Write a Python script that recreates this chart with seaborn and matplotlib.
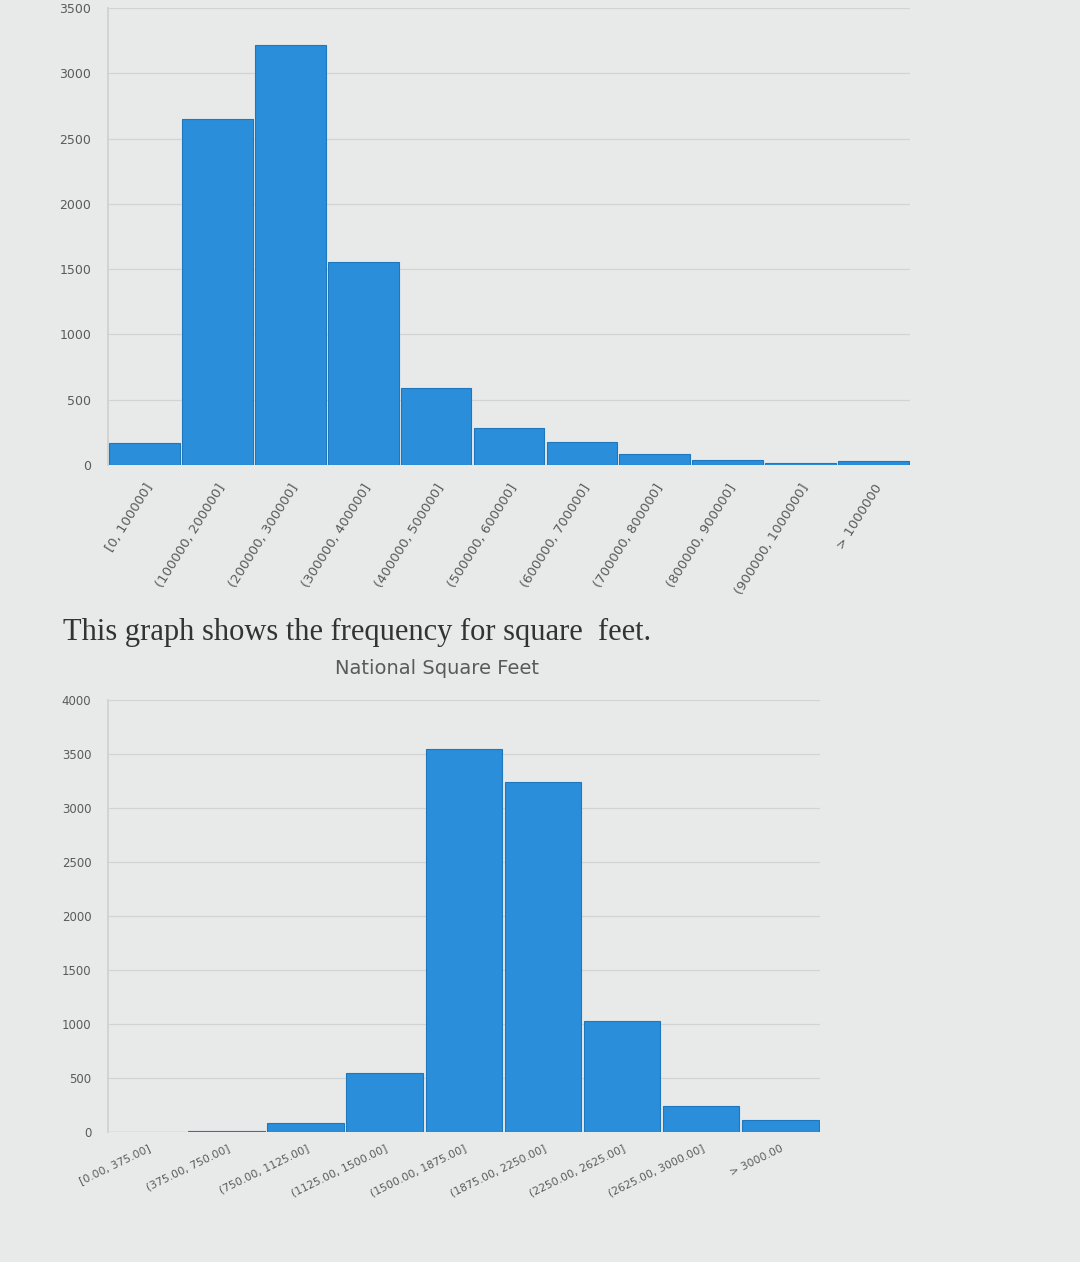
import numpy as np
import matplotlib
matplotlib.use("Agg")
import matplotlib.pyplot as plt
import seaborn as sns
import pandas as pd

# top chart: price bins
price_bins = ["[0, 100000]", "(100000, 200000]", "(200000, 300000]", "(300000, 400000]",
              "(400000, 500000]", "(500000, 600000]", "(600000, 700000]", "(700000, 800000]",
              "(800000, 900000]", "(900000, 1000000]", "> 1000000"]
price_counts = [170, 2650, 3215, 1555, 590, 285, 178, 86, 40, 16, 32]

# bottom chart: square feet bins
sqft_bins = ["[0.00, 375.00]", "(375.00, 750.00]", "(750.00, 1125.00]", "(1125.00, 1500.00]",
             "(1500.00, 1875.00]", "(1875.00, 2250.00]", "(2250.00, 2625.00]",
             "(2625.00, 3000.00]", "> 3000.00"]
sqft_counts = [0, 12, 85, 548, 3545, 3240, 1028, 240, 112]

sns.set_theme(style="whitegrid")
plt.rcParams['font.family'] = ['DejaVu Sans']

bg = "#e8eaea"
bar_color = "#2a8edb"
grey_txt = "#5a5a5a"

fig = plt.figure(figsize=(10.8, 12.62), dpi=100)
fig.patch.set_facecolor(bg)

ax1 = fig.add_axes([0.1, 0.6315, 0.7426, 0.3622])
ax2 = fig.add_axes([0.1, 0.103, 0.659, 0.3423])

df1 = pd.DataFrame({"bin": price_bins, "count": price_counts})
df2 = pd.DataFrame({"bin": sqft_bins, "count": sqft_counts})

sns.barplot(data=df1, x="bin", y="count", color=bar_color, saturation=1, width=0.97,
            edgecolor="#1f78bd", linewidth=0.8, ax=ax1)
sns.barplot(data=df2, x="bin", y="count", color=bar_color, saturation=1, width=0.97,
            edgecolor="#1f78bd", linewidth=0.8, ax=ax2)

# (axis, top of y, number of bins, label angle, x label size, y label size, x pad)
setup = [(ax1, 3500, len(price_bins), 58, 9.5, 9, 12),
         (ax2, 4000, len(sqft_bins), 26, 7.8, 8.5, 8)]
for ax, ymax, n, rot, xls, yls, xpad in setup:
    ax.set_facecolor(bg)
    ax.set_ylim(0, ymax)
    ax.set_xlim(-0.5, n - 0.5)
    ax.set_yticks(np.arange(0, ymax + 1, 500))
    ax.grid(axis="y", color="#d2d4d4", linewidth=0.9)
    ax.grid(axis="x", visible=False)
    ax.set_xlabel("")
    ax.set_ylabel("")
    for s in ["top", "right", "bottom"]:
        ax.spines[s].set_visible(False)
    ax.spines["left"].set_color("#cfd1d1")
    ax.tick_params(axis="y", labelsize=yls, labelcolor=grey_txt, length=0, pad=12)
    ax.tick_params(axis="x", labelsize=xls, labelcolor=grey_txt, length=0, pad=xpad)
    plt.setp(ax.get_xticklabels(), rotation=rot, ha="right", rotation_mode="anchor")

fig.text(0.058, 0.499, "This graph shows the frequency for square  feet.",
         family="Liberation Serif", fontsize=22, color="#333333", va="center", ha="left")
fig.text(0.405, 0.47, "National Square Feet", fontsize=14, color=grey_txt,
         va="center", ha="center")

fig.savefig("out.png", dpi=100, facecolor=bg)
